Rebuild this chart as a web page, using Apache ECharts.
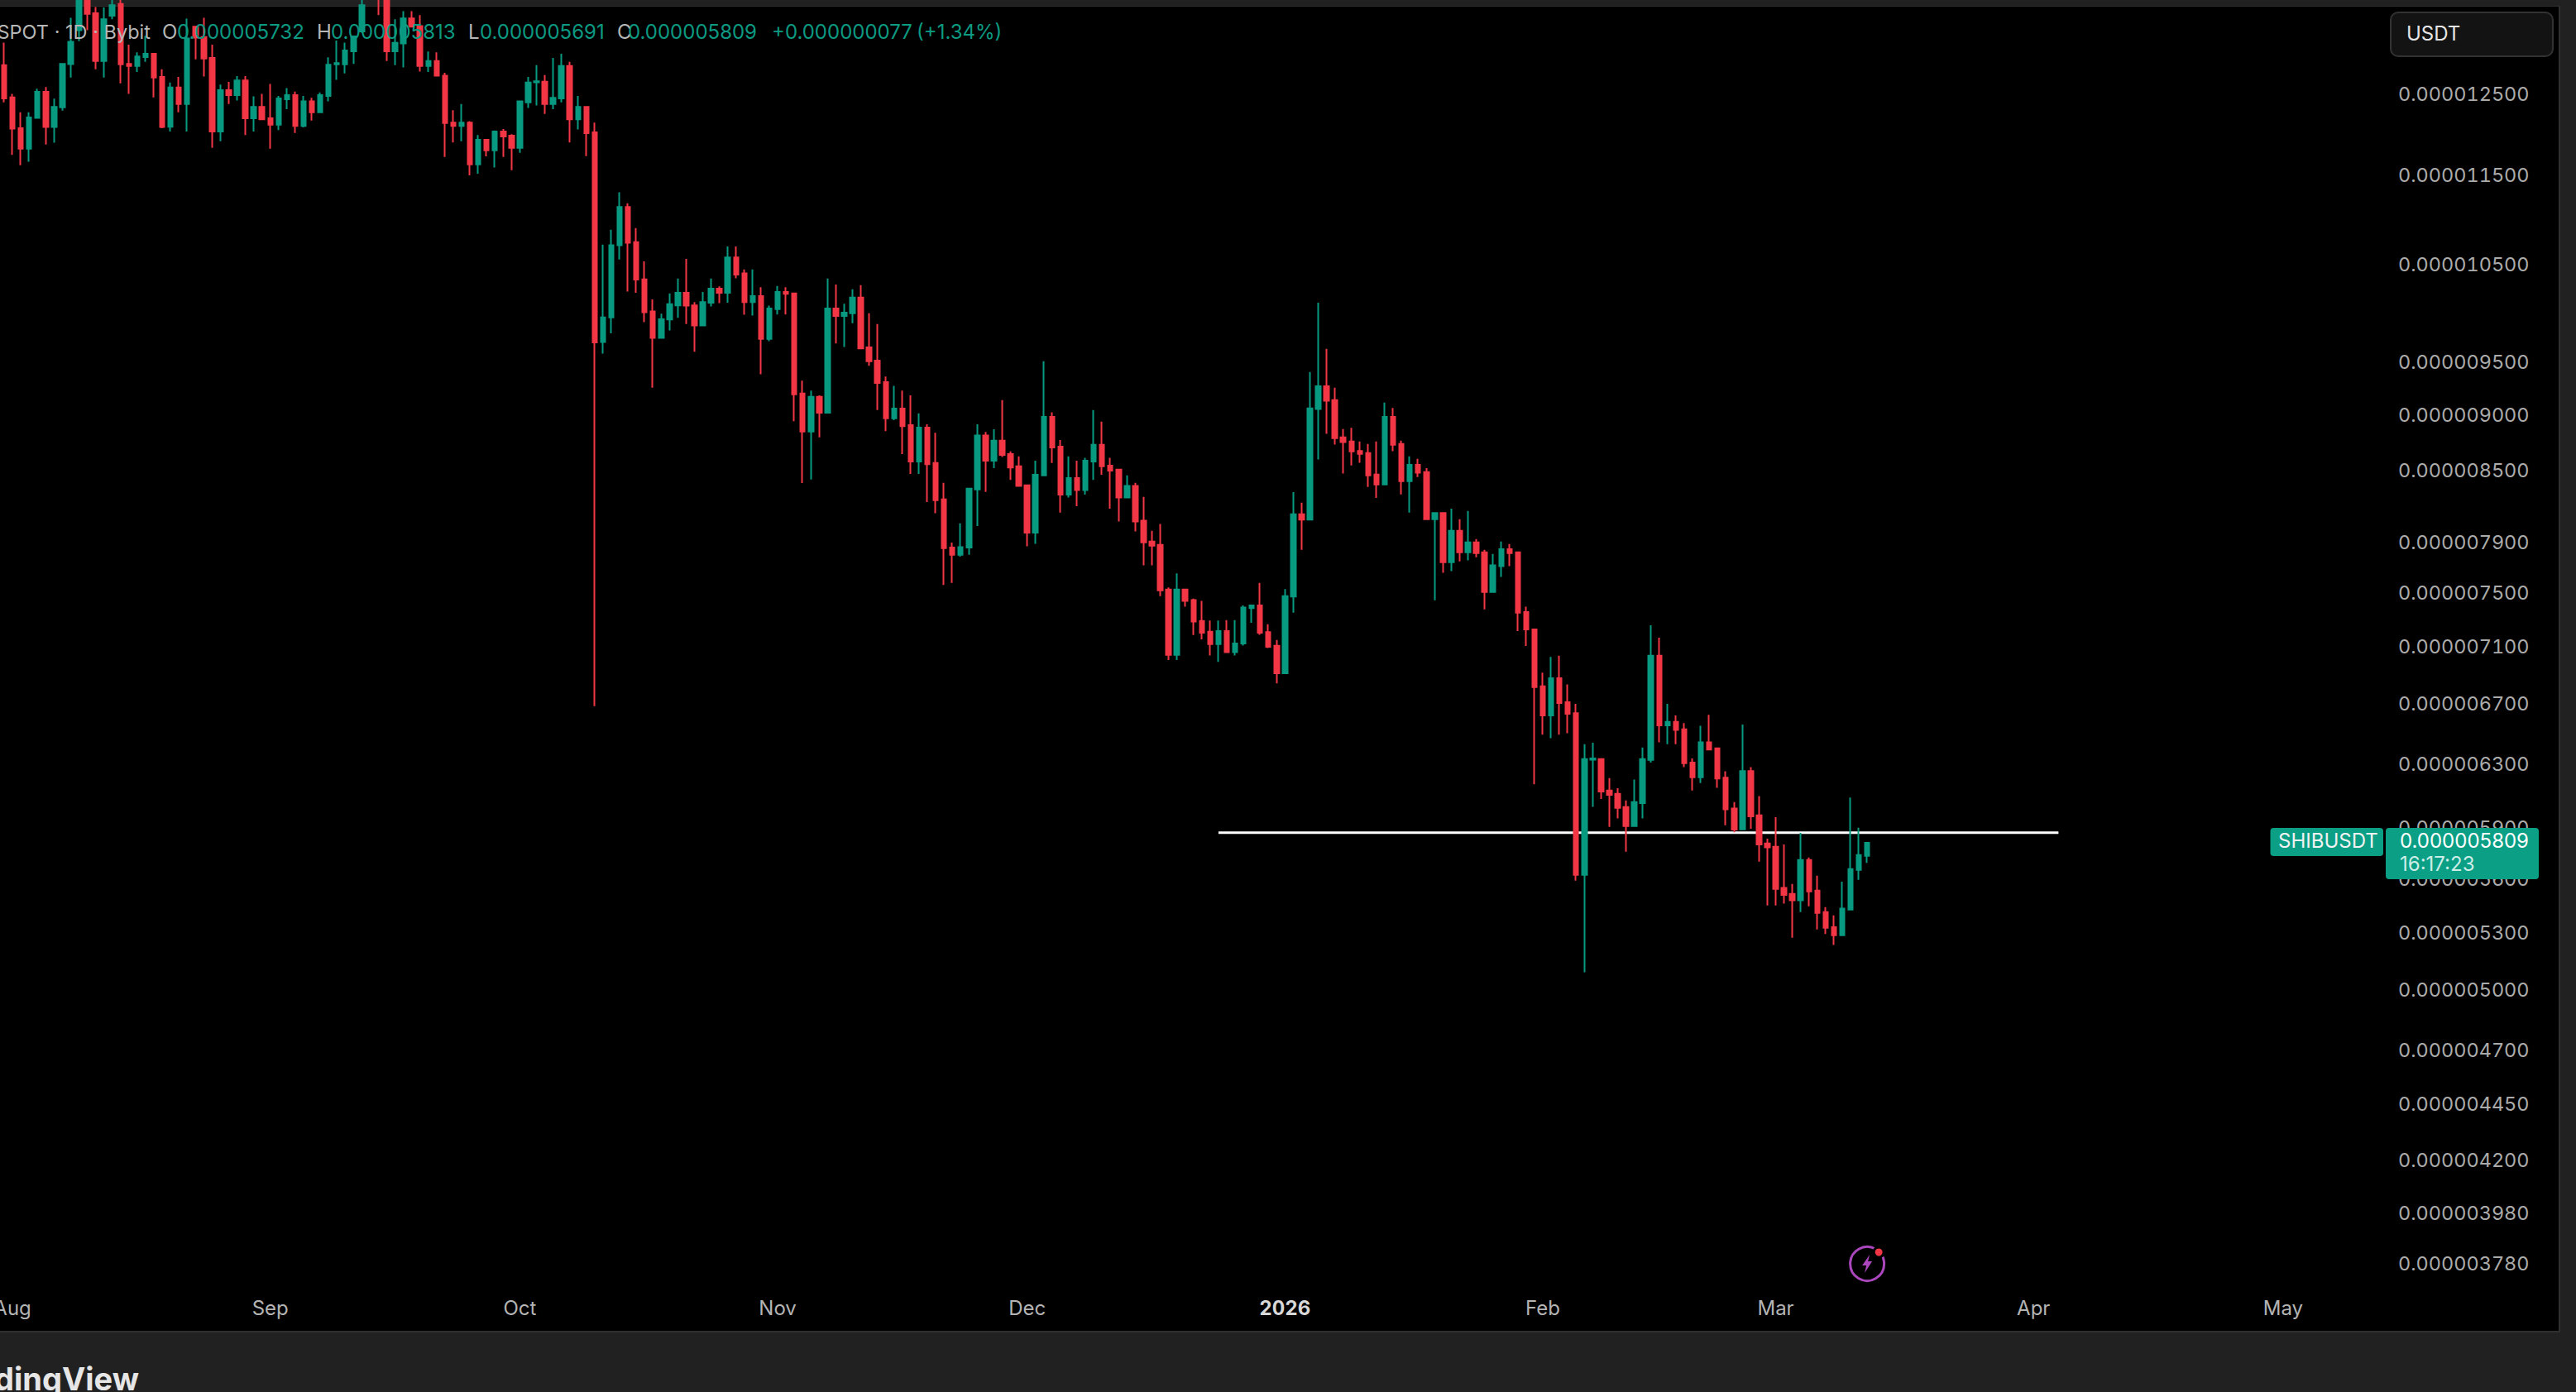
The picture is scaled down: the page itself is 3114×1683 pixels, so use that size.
<!DOCTYPE html>
<html><head><meta charset="utf-8">
<style>html,body{margin:0;padding:0;background:#212121}#c{width:3114px;height:1683px}
svg text{font-variant-numeric:tabular-nums;font-feature-settings:"tnum" 1}</style>
<script src="https://cdn.jsdelivr.net/npm/echarts@6/dist/echarts.min.js"></script>
</head><body><div id="c"></div>
<script>
// prices in units of 1e-9 USDT
const opens=[12867,12451,12065,11814,12192,12522,12079,12324,12882,13336,
13780,13569,12921,13535,13700,12885,12856,12975,13018,12712,
12082,12576,12365,13385,13243,12964,12023,12543,12479,12669,
12186,12330,12186,12106,12427,12479,12092,12399,12261,12469,
12878,12878,13051,13318,13680,14000,13800,13051,13156,13497,
13393,12856,12921,12730,12134,12092,12134,11625,11923,11794,
12023,11973,11824,12386,12644,12651,12365,12437,12856,12175,
12330,12013,
9695,9942,10702,11130,10738,10337,10002,9736,9920,10065,
10196,10065,9860,10092,10239,10196,10571,10399,10099,10161,
9725,10025,10204,10188,9197,8846,9166,9019,10032,9957,
9984,10145,9642,9512,9304,8967,9056,8905,8579,8882,
8566,8253,7857,7799,7857,8338,8810,8586,8764,8645,
8537,8373,7978,8458,8981,8711,8294,8436,8332,8579,
8728,8543,8508,8269,8367,8075,7905,7878,7526,7040,
7526,7446,7289,7209,7118,7214,7059,
7123,7385,7405,7206,7106,6909,7472,8129,8084,9053,
9266,9135,8794,8757,8673,8654,8465,8380,8981,8735,
8409,8550,8487,8088,8140,7740,7993,7818,7898,7818,
7507,7708,7844,7818,7355,
7226,6817,6617,6874,6708,6633,5622,6325,6329,6128,
6107,6025,5909,6050,6323,7034,6551,6574,6524,6306,
6212,6438,6398,6209,6016,5890,6251,5975,5805,5786,
5547,5513,5477,5708,5532,5412,5329,5285,5425,5650,
5732];
const highs=[13168,12496,12261,12261,12561,12583,12434,12885,13505,13950,
13900,13654,13650,13800,13800,13141,13036,13261,13018,12813,
12640,12712,13494,13385,13505,13141,12615,12648,12723,12723,
12462,12496,12622,12469,12568,12525,12469,12444,12514,12972,
13194,13168,13250,13850,14050,14100,13900,13486,13599,13599,
13542,13047,13036,12766,12289,12365,12151,11979,11923,12037,
12054,11989,12399,12712,12867,12738,12964,13018,12910,12469,12341,12134,
10710,10873,11299,11172,10893,10528,10126,9980,10188,10344,
10555,10099,10204,10344,10262,10690,10690,10442,10442,10254,
10062,10266,10254,10196,9319,9225,9180,10344,10282,10081,
10231,10274,9984,9875,9358,9269,9225,9180,9012,8912,
8836,8395,7896,8054,8345,8912,8843,8866,9135,8668,
8625,8373,8586,9505,9022,8770,8625,8586,8612,9043,
8936,8612,8515,8458,8395,8275,7993,8048,7543,7652,
7526,7457,7440,7292,7292,7295,7295,
7405,7412,7578,7264,7148,7530,8315,8225,9402,10093,
9627,9251,8868,8880,8757,8735,8757,9112,9063,8764,
8624,8602,8522,8140,8140,8176,8088,8156,7926,7838,
7805,7905,7885,7825,7395,
7232,6913,7026,7034,6831,6696,6426,6435,6332,6206,
6143,6067,6197,6404,7256,7165,6696,6617,6566,6332,
6547,6621,6398,6250,6056,6556,6276,6094,5834,5963,
5799,5570,5868,5722,5617,5439,5393,5583,6085,5899,
5813];
const lows=[12386,11738,11615,11658,12192,11863,11887,12282,12705,13186,
13336,12813,12705,13486,12630,12496,12777,12910,12451,12065,
12023,12261,12023,12943,12720,11824,11903,12365,12410,11979,
12023,12175,11814,12041,12300,12006,12075,12158,12261,12399,
12676,12759,12885,13299,13670,13542,12921,12867,12838,13385,
12784,12777,12730,11714,11890,11903,11496,11516,11721,11589,
11714,11556,11764,12317,12348,12241,12300,12386,11890,12048,11724,6680,
9581,9781,10547,10208,10196,9894,9252,9736,9811,9938,
9875,9598,9860,10054,10088,10092,10348,9968,9961,9380,
9703,9972,9972,8940,8392,8423,8794,9019,9681,9645,
9883,9631,9462,9043,8850,8950,8645,8471,8471,8231,
8138,7561,7578,7784,7799,8032,8317,8521,8619,8420,
8367,7866,7887,8458,8566,8142,8269,8196,8294,8420,
8464,8175,8069,8269,7987,7715,7715,7476,7003,7003,
7395,7185,7153,7035,6990,7059,7035,
7108,7274,7186,7090,6837,6905,7351,7838,8084,8597,
8826,8730,8475,8545,8568,8359,8265,8375,8671,8296,
8143,8444,8088,7445,7656,7669,7747,7754,7779,7376,
7507,7624,7708,7214,7105,
6167,6488,6465,6488,6498,5588,5089,6027,6076,5904,
5956,5757,5909,5956,6306,6438,6426,6426,6276,6128,
6175,6386,6145,5915,5872,5890,5893,5698,5449,5449,
5459,5272,5412,5444,5317,5292,5233,5285,5425,5593,
5691];
const closes=[12437,12058,11814,12196,12522,12079,12330,12885,13179,13780,
13561,12921,13486,13680,12878,12856,12982,13018,12705,12079,
12576,12365,13224,13235,12954,12023,12543,12479,12669,12186,
12330,12175,12106,12437,12479,12092,12399,12261,12479,12874,
12896,13062,13250,13680,13900,13800,13051,13164,13497,13385,
12856,12921,12730,12127,12092,12134,11625,11923,11794,12023,
11963,11824,12399,12640,12658,12365,12444,12856,12175,12330,12003,9691,
9942,10702,11130,10730,10333,9995,9736,9923,10077,10196,
10062,9860,10099,10239,10196,10571,10387,10099,10161,9725,
10032,10204,10184,9190,8846,9166,9019,10032,9957,9991,
10145,9631,9505,9297,8967,9056,8896,8579,8882,8556,
8247,7851,7799,7860,8345,8810,8586,8764,8638,8527,
8367,7978,8464,8981,8704,8294,8436,8332,8586,8728,
8537,8499,8269,8367,8069,7899,7872,7520,7040,7526,
7440,7284,7201,7118,7214,7059,7123,
7389,7405,7202,7098,6909,7476,8129,8084,9058,9266,
9130,8787,8752,8668,8646,8458,8380,8981,8727,8409,
8550,8482,8088,8140,7740,7993,7818,7898,7812,7507,
7715,7844,7812,7351,7226,
6811,6617,6874,6702,6629,5622,6329,6332,6122,6101,
6020,5909,6056,6329,7034,6551,6574,6520,6302,6212,
6438,6390,6204,6011,5888,6251,5969,5799,5782,5542,
5508,5477,5708,5528,5407,5325,5285,5431,5655,5737,
5809];
const priceTicks=[12500,11500,10500,9500,9000,8500,7900,7500,7100,6700,6300,5900,5600,5300,5000,4700,4450,4200,3980,3780];
const monthDates=['2025-08-01','2025-09-01','2025-10-01','2025-11-01','2025-12-01','2026-01-01','2026-02-01','2026-03-01','2026-04-01','2026-05-01'];
const monthTexts=['Aug','Sep','Oct','Nov','Dec','2026','Feb','Mar','Apr','May'];
const levelValue=5870, levelFrom='2025-12-24', levelTo='2026-04-04';
const axisMax=13661, axisMin=3676, totalBands=307, firstDay=Date.UTC(2025,6,31);

const dates=[];
for(let i=0;i<totalBands;i++) dates.push(new Date(firstDay+i*864e5).toISOString().slice(0,10));
const candles=opens.map((o,i)=>[o,closes[i],lows[i],highs[i]]);
const fmt=v=>(v/1e9).toFixed(9);
const GREEN='#089981', RED='#f23645', FONT='Inter';

const chart=echarts.init(document.getElementById('c'),null,{renderer:'svg'});
chart.setOption({
  animation:false,
  backgroundColor:'#212121',
  grid:{left:0,top:8,width:3086.6,height:1552,containLabel:false,outerBoundsMode:'none'},
  xAxis:{type:'category',data:dates,boundaryGap:true,
    axisLine:{show:false},axisTick:{show:false},splitLine:{show:false},
    axisLabel:{show:true,interval:(i,v)=>monthDates.includes(v),margin:9,fontFamily:FONT,fontSize:24,color:'#b4b4b4',
      formatter:v=>{const t=monthTexts[monthDates.indexOf(v)];return t==='2026'?'{b|2026}':t;},
      rich:{b:{fontFamily:FONT,fontSize:24,fontWeight:'bold',color:'#d8d8d8'}}}},
  yAxis:{type:'log',logBase:10,min:axisMin,max:axisMax,position:'right',
    axisLine:{show:false},axisTick:{show:false},splitLine:{show:false},minorSplitLine:{show:false},
    axisLabel:{show:true,inside:true,margin:29,padding:[0,0,2,0],fontFamily:FONT,fontSize:23.5,color:'#ababab',customValues:priceTicks,formatter:v=>fmt(v)}},
  series:[
    {type:'line',name:'level',z:1,symbol:'none',silent:true,lineStyle:{color:'#ffffff',width:3},
      data:[[levelFrom,levelValue],[levelTo,levelValue]]},
    {type:'candlestick',name:'SHIBUSDT',z:2,data:candles,barWidth:6,clip:true,
      itemStyle:{color:GREEN,color0:RED,borderColor:GREEN,borderColor0:RED,borderWidth:2}}
  ]
});

const lastIdx=closes.length-1;
const tagY=chart.convertToPixel({yAxisIndex:0},closes[lastIdx]);
const lastX=chart.convertToPixel({xAxisIndex:0},dates[lastIdx]);
const txt=(text,x,y,fill,size,align,weight)=>({type:'text',x,y,z:60,silent:true,style:{text,fill,font:(weight||'normal')+' '+size+'px '+FONT,align:align||'left',textAlign:align||'left',verticalAlign:'middle',textVerticalAlign:'middle'}});
const rect=(x,y,w,h,fill,r,z,stroke)=>({type:'rect',silent:true,z,shape:{x,y,width:w,height:h,r:r||0},style:{fill,stroke:stroke||null,lineWidth:stroke?2:0}});
const GRAY='#b7b7b7', LG='#0d9a82';
chart.setOption({graphic:{elements:[
  rect(0,7,3095,1604,'#2f2f2f',0,-20),
  rect(0,8,3093,1601,'#000000',0,-19),
  // legend
  txt('SHIBUSDT SPOT · 1D · Bybit',182,38.5,GRAY,23.5,'right'),
  txt('O',196,38.5,GRAY,24), txt('0.000005732',214,38.5,LG,24),
  txt('H',383,38.5,GRAY,24), txt('0.000005813',400,38.5,LG,24),
  txt('L',566,38.5,GRAY,24), txt('0.000005691',580,38.5,LG,24),
  txt('C',746,38.5,GRAY,24), txt('0.000005809',759,38.5,LG,24),
  txt('+0.000000077',933,38.5,LG,24), txt('(+1.34%)',1108,38.5,LG,24),
  // currency box
  rect(2890,15,196,53,'#131313',9,50,'#323232'),
  txt('USDT',2909,40.5,'#e6e6e6',24),
  // price tags
  rect(2744.5,tagY-18,136.5,34,'#0b9f86',4,50),
  txt('SHIBUSDT',2754,tagY-2.5,'#f2f2f2',24),
  rect(2884,tagY-18,185,62,'#0b9f86',4,50),
  txt('0.000005809',2901,tagY-2.5,'#ffffff',24),
  txt('16:17:23',2901,tagY+25.5,'#cdeee6',24),
  // bolt icon
  {type:'circle',silent:true,z:50,shape:{cx:lastX,cy:1528,r:20.5},style:{fill:null,stroke:'#ab47bc',lineWidth:3}},
  {type:'polygon',silent:true,z:51,shape:{points:[[lastX+3,1517],[lastX-6,1530],[lastX-1,1530],[lastX-3,1539],[lastX+6,1525],[lastX+1,1525]]},style:{fill:'#ab47bc'}},
  {type:'circle',silent:true,z:52,shape:{cx:lastX+14,cy:1514,r:6},style:{fill:'#f23645',stroke:'#000',lineWidth:3}},
  // brand
  {type:'text',x:168,y:1686,z:60,silent:true,style:{text:'TradingView',fill:'#e6e6e6',font:'bold 38px '+FONT,align:'right',textAlign:'right',verticalAlign:'bottom',textVerticalAlign:'bottom'}}
]}});
</script></body></html>
